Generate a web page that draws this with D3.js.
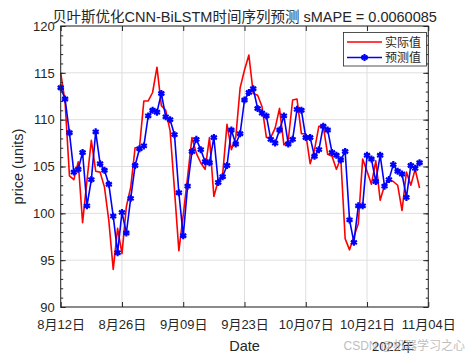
<!DOCTYPE html>
<html><head><meta charset="utf-8">
<script src="https://cdn.jsdelivr.net/npm/d3@7"></script>
<style>
body{margin:0;background:#fff}
svg{display:block}
text{font-family:"Liberation Sans","Noto Sans CJK SC",sans-serif;fill:#262626}
</style>
</head><body>
<svg id="c" width="474" height="355"></svg>
<script>
// ---- data ----
const startDate = "2022-08-12"; // daily observations
const actual = [
115.0,111.9,104.0,103.6,105.5,99.0,103.5,107.8,104.5,104.4,
102.8,99.2,94.0,98.4,95.7,100.7,102.8,107.0,107.0,112.0,
112.0,112.9,115.6,111.5,111.0,108.8,102.5,96.0,99.8,103.9,
108.1,106.4,105.4,104.7,108.1,101.8,103.5,104.1,109.5,106.8,
108.1,113.4,115.3,116.9,112.8,112.6,111.4,108.1,108.1,109.1,
111.2,107.3,107.8,112.1,112.2,108.5,108.5,105.3,106.8,109.3,
109.3,106.3,106.1,104.7,105.9,97.3,96.1,97.5,98.9,105.8,
104.5,103.1,105.6,101.4,103.0,103.6,103.4,103.0,100.3,104.4,
103.0,104.7,102.7];
const predicted = [
113.4,112.2,108.6,104.4,104.7,106.5,100.8,103.6,108.7,105.3,
104.6,103.1,99.7,95.8,100.1,97.9,101.6,105.1,106.9,107.2,
110.4,111.0,110.8,112.8,110.3,110.0,108.4,102.2,97.6,102.9,
106.6,107.9,106.8,105.5,105.4,108.1,103.3,103.9,105.1,108.9,
107.4,108.5,112.1,112.9,113.3,111.2,110.7,110.4,107.9,107.5,
108.9,110.4,107.4,107.9,111.1,111.0,108.1,108.1,106.1,106.8,
109.3,108.9,106.5,106.2,105.7,106.6,99.3,96.9,100.8,100.8,
106.2,105.8,103.4,106.2,102.9,103.6,105.2,104.5,104.2,101.7,
105.1,104.8,105.4];
const yTicks = [90,95,100,105,110,115,120];
const xTickDates = ["2022-08-12","2022-08-26","2022-09-09","2022-09-23","2022-10-07","2022-10-21","2022-11-04"];
const xTickLabels = ["8月12日","8月26日","9月09日","9月23日","10月07日","10月21日","11月04日"];
const seriesNames = ["实际值","预测值"];
const titleText = "贝叶斯优化CNN-BiLSTM时间序列预测 sMAPE = 0.0060085";
const xLabel = "Date", yLabel = "price (units)", yearLabel = "2022年";

// ---- chart ----
const parse = d3.timeParse("%Y-%m-%d");
const t0 = parse(startDate);
const dates = actual.map((_, i) => d3.timeDay.offset(t0, i));
const tickDates = xTickDates.map(parse);

const L = 60.7, R = 428.3, T = 26, B = 307;
const x = d3.scaleTime().domain([tickDates[0], tickDates[tickDates.length-1]]).range([L, R]);
const y = d3.scaleLinear().domain([90, 120]).range([B, T]);

const svg = d3.select("#c");
const axisColor = "#262626";

// grid
const g = svg.append("g");
g.selectAll("line.gy").data(yTicks).join("line")
  .attr("x1", L).attr("x2", R).attr("y1", d => y(d)).attr("y2", d => y(d))
  .attr("stroke", "#dfdfdf").attr("stroke-width", 1);
g.selectAll("line.gx").data(tickDates).join("line")
  .attr("y1", T).attr("y2", B).attr("x1", d => x(d)).attr("x2", d => x(d))
  .attr("stroke", "#dfdfdf").attr("stroke-width", 1);

// series
const lineGen = d3.line().x((d, i) => x(dates[i])).y(d => y(d));
svg.append("path").datum(actual).attr("d", lineGen)
  .attr("fill", "none").attr("stroke", "#ff0000").attr("stroke-width", 1.6).attr("stroke-linejoin", "round");
svg.append("path").datum(predicted).attr("d", lineGen)
  .attr("fill", "none").attr("stroke", "#0000ff").attr("stroke-width", 1.6).attr("stroke-linejoin", "round");
const star = d3.symbol().type(d3.symbolAsterisk).size(34);
svg.append("g").selectAll("path").data(predicted).join("path")
  .attr("transform", (d, i) => `translate(${x(dates[i])},${y(d)})`)
  .attr("d", star).attr("fill", "none").attr("stroke", "#0000ff").attr("stroke-width", 2.2);

// axes
function styleAxis(sel){
  sel.select(".domain").remove();
  sel.selectAll("line").attr("stroke", axisColor);
  sel.selectAll("text").attr("fill", axisColor).style("font-size", "13px");
}
const yMinor = d3.range(90, 121, 1);
svg.append("g").attr("transform", `translate(${L},0)`)
  .call(d3.axisLeft(y).tickValues(yMinor).tickSizeInner(-2.5).tickSizeOuter(0).tickFormat(""))
  .call(styleAxis);
svg.append("g").attr("transform", `translate(${R},0)`)
  .call(d3.axisRight(y).tickValues(yMinor).tickSizeInner(-2.5).tickSizeOuter(0).tickFormat(""))
  .call(styleAxis);
svg.append("g").attr("transform", `translate(${L},0)`)
  .call(d3.axisLeft(y).tickValues(yTicks).tickSizeInner(-5).tickSizeOuter(0).tickPadding(6))
  .call(styleAxis);
svg.append("g").attr("transform", `translate(${R},0)`)
  .call(d3.axisRight(y).tickValues(yTicks).tickSizeInner(-5).tickSizeOuter(0).tickFormat(""))
  .call(styleAxis);
svg.append("g").attr("transform", `translate(0,${B})`)
  .call(d3.axisBottom(x).tickValues(tickDates).tickFormat((d, i) => xTickLabels[i]).tickSizeInner(-5).tickSizeOuter(0).tickPadding(13))
  .call(styleAxis);
svg.append("g").attr("transform", `translate(0,${T})`)
  .call(d3.axisTop(x).tickValues(tickDates).tickFormat("").tickSizeInner(-5).tickSizeOuter(0))
  .call(styleAxis);

svg.append("rect").attr("x", L).attr("y", T).attr("width", R - L).attr("height", B - T)
  .attr("fill", "none").attr("stroke", axisColor).attr("stroke-width", 1);

// labels
svg.append("text").attr("x", (L + R) / 2).attr("y", 22).attr("text-anchor", "middle")
  .style("font-size", "14.5px").text(titleText);
svg.append("text").attr("x", (L + R) / 2).attr("y", 351).attr("text-anchor", "middle")
  .style("font-size", "14.5px").text(xLabel);
svg.append("text").attr("transform", `translate(23,${(T + B) / 2}) rotate(-90)`).attr("text-anchor", "middle")
  .style("font-size", "14.5px").text(yLabel);
svg.append("text").attr("x", 393).attr("y", 351).attr("text-anchor", "middle")
  .style("font-size", "13px").text(yearLabel);
svg.append("text").attr("x", 465).attr("y", 350).attr("text-anchor", "end")
  .style("font-size", "12px").style("fill", "#b0b0b0").attr("opacity", 0.8).text("CSDN @机器学习之心");

// legend
const lg = svg.append("g");
lg.append("rect").attr("x", 343.5).attr("y", 32.5).attr("width", 83).attr("height", 33.5)
  .attr("fill", "#fff").attr("stroke", axisColor).attr("stroke-width", 0.8);
const legendColors = ["#ff0000", "#0000ff"];
seriesNames.forEach((name, i) => {
  const ly = 42 + i * 15.5;
  lg.append("line").attr("x1", 347).attr("x2", 382).attr("y1", ly).attr("y2", ly)
    .attr("stroke", legendColors[i]).attr("stroke-width", 1.6);
  if (i === 1) lg.append("path").attr("transform", `translate(364.5,${ly})`).attr("d", star)
    .attr("fill", "none").attr("stroke", "#0000ff").attr("stroke-width", 2.2);
  lg.append("text").attr("x", 385).attr("y", ly + 4.5).style("font-size", "12px").text(name);
});
</script>
</body></html>
